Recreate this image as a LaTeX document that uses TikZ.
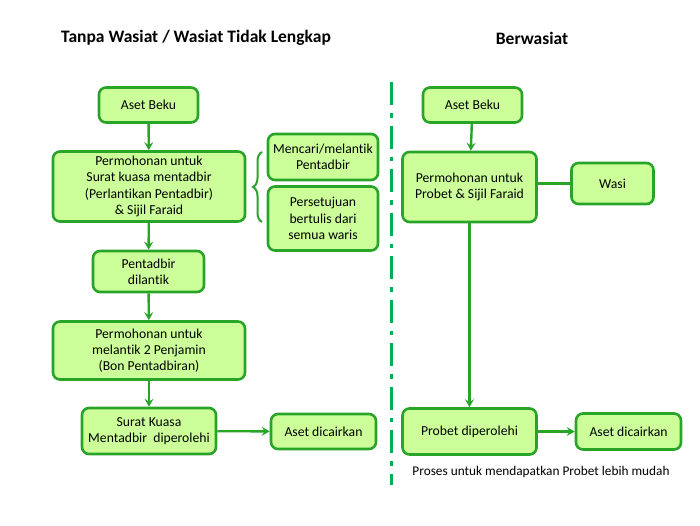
\documentclass[tikz,border=0pt]{standalone}
\usepackage{fontspec}
\setmainfont{Carlito}[Ligatures=NoCommon]
\usetikzlibrary{arrows.meta,decorations.pathreplacing}
\definecolor{boxfill}{RGB}{204,255,153}
\definecolor{boxdraw}{RGB}{40,165,40}
\definecolor{sepline}{RGB}{0,176,80}
\tikzset{
  box/.style={draw=boxdraw, fill=boxfill, line width=2.6pt, rounded corners=7pt,
    align=center, inner sep=2pt, font=\fontsize{13.7}{16.3}\selectfont},
  conn/.style={draw=boxdraw, line width=2.4pt},
  arr/.style={conn, -{Stealth[length=8pt,width=9pt,inset=3pt]}},
  title/.style={font=\fontsize{17.5}{20}\selectfont\bfseries},
}
\begin{document}
\begin{tikzpicture}[x=1pt,y=-1pt]
\useasboundingbox (0,0) rectangle (700,525);
% titles
\node[title] (t1) at (196,38) {Tanpa Wasiat / Wasiat Tidak Lengkap};
\node[title] (t2) at (532,38) {Berwasiat};
% separator
\coordinate (s1) at (391,82);
\coordinate (s2) at (391,485);
\draw[sepline, line width=3pt, dash pattern=on 23pt off 8pt on 4.5pt off 8pt] (s1) -- (s2);
% left column
\node[box, minimum width=99pt, minimum height=35pt] (a1) at (148.5,105) {Aset Beku};
\node[box, minimum width=192pt, minimum height=70pt] (p1) at (149,186.5) {Permohonan untuk\\Surat kuasa mentadbir\\(Perlantikan Pentadbir)\\\& Sijil Faraid};
\node[box, minimum width=110pt, minimum height=46pt] (m1) at (323,157) {Mencari/melantik\\Pentadbir};
\node[box, minimum width=110pt, minimum height=64pt] (ps) at (323,218.5) {Persetujuan\\bertulis dari\\semua waris};
\node[box, minimum width=111pt, minimum height=41pt] (pd) at (148.5,271.5) {Pentadbir\\dilantik};
\node[box, minimum width=192pt, minimum height=58pt] (pj) at (149,350.5) {Permohonan untuk\\melantik 2 Penjamin\\(Bon Pentadbiran)};
\node[box, minimum width=134pt, minimum height=46pt] (sk) at (149,431) {Surat Kuasa\\Mentadbir~ diperolehi};
\node[box, minimum width=105pt, minimum height=35pt] (ad1) at (323.5,431.5) {Aset dicairkan};
\draw[arr] (a1) -- (p1);
\draw[arr] (p1) -- (pd);
\draw[arr] (pd) -- (pj);
\draw[arr] (pj) -- (sk);
\draw[arr] (sk) -- (ad1);
% brace
\coordinate (b1) at (262,222);
\coordinate (b2) at (262,152);
\draw[boxdraw, line width=2pt, decorate, decoration={brace, amplitude=9pt}] (b1) -- (b2);
% right column
\node[box, minimum width=99pt, minimum height=35pt] (a2) at (472.5,105) {Aset Beku};
\node[box, minimum width=134pt, minimum height=70pt] (p2) at (469.5,187) {Permohonan untuk\\Probet \& Sijil Faraid};
\node[box, minimum width=82pt, minimum height=41pt] (w) at (612.5,183.5) {Wasi};
\node[box, minimum width=134pt, minimum height=46pt] (pb) at (469.5,431.5) {Probet diperolehi};
\node[box, minimum width=105pt, minimum height=36pt] (ad2) at (628.5,431.5) {Aset dicairkan};
\draw[arr] (a2) -- (p2);
\draw[conn] (w.west) -- (w.west -| p2.east);
\draw[arr] (p2) -- (pb);
\draw[arr] (pb) -- (ad2);
\node[font=\fontsize{13.3}{16}\selectfont] (cap) at (541,472) {Proses untuk mendapatkan Probet lebih mudah};
\end{tikzpicture}
\end{document}
